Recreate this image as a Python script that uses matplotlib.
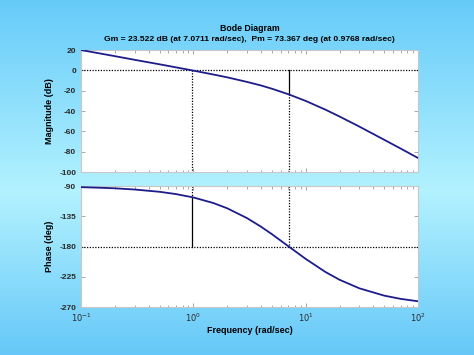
import numpy as np
import matplotlib
matplotlib.use("Agg")
import matplotlib.pyplot as plt
from matplotlib.colors import LinearSegmentedColormap

plt.rcParams['font.family'] = ['Liberation Sans', 'DejaVu Sans']

# values
freq = [0.1, 0.15, 0.2, 0.3, 0.5, 0.7, 1, 1.5, 2, 3, 4, 5, 7, 10, 15, 20, 30, 50, 70, 100]
mag_db = [20.0, 16.5, 14.0, 10.4, 6.0, 3.0, -0.2, -4.0, -6.8, -11.3, -14.8, -18.0, -23.4,
          -30.0, -38.6, -45.3, -55.2, -68.2, -76.8, -86.1]
phase_deg = [-91.7, -92.6, -93.4, -95.2, -98.6, -102.0, -107.0, -115.2, -123.1, -137.7,
             -150.5, -161.6, -179.5, -198.4, -217.9, -229.4, -242.1, -253.0, -257.8, -261.4]
gm_db, gm_freq = 23.522, 7.0711
pm_deg, pm_freq = 73.367, 0.9768
mag_ticks = [20, 0, -20, -40, -60, -80, -100]
phase_ticks = [-90, -135, -180, -225, -270]

fig = plt.figure(figsize=(4.74, 3.55), dpi=100)

# blue gradient background
bg = fig.add_axes([0, 0, 1, 1], zorder=-10)
cmap = LinearSegmentedColormap.from_list("bg", [(0, "#66c8f8"), (0.46, "#b3f2ff"), (1, "#66cbf9")])
bg.imshow(np.linspace(0, 1, 256).reshape(-1, 1), aspect='auto', cmap=cmap,
          extent=[0, 1, 0, 1], origin='lower')
bg.axis('off')

line_col = '#1c1c8a'
tick_col = '#2a2a2a'
dots = (0, (1, 1.2))

ax1 = fig.add_axes([0.171, 0.515, 0.711, 0.344])
ax2 = fig.add_axes([0.171, 0.135, 0.711, 0.341])

for ax in (ax1, ax2):
    ax.set_facecolor('white')
    ax.set_xscale('log')
    ax.set_xlim(0.1, 100)
    for s in ax.spines.values():
        s.set_color('#c8c8c8')
        s.set_linewidth(0.8)
    ax.tick_params(which='both', direction='in', top=True, right=True,
                   color='#999999', labelsize=6, labelcolor=tick_col, length=3, width=0.6)
    ax.tick_params(which='minor', length=1.8)

# magnitude
ax1.plot(freq, mag_db, color=line_col, lw=1.3, zorder=3)
ax1.axhline(0, color='black', ls=dots, lw=0.9)
ax1.plot([pm_freq, pm_freq], [0, -100], color='black', ls=dots, lw=0.9)
ax1.plot([gm_freq, gm_freq], [0, -gm_db], color='black', lw=0.9)
ax1.plot([gm_freq, gm_freq], [-gm_db, -100], color='black', ls=dots, lw=0.9)
ax1.set_ylim(-100, 20)
ax1.set_yticks(mag_ticks)
ax1.set_yticklabels([str(t) for t in mag_ticks], fontweight='bold')
ax1.tick_params(which='both', labelbottom=False)
ax1.set_ylabel('Magnitude (dB)', fontsize=6.5, fontweight='bold', color='black', labelpad=4)

# phase
ax2.plot(freq, phase_deg, color=line_col, lw=1.3, zorder=3)
ax2.axhline(-180, color='black', ls=dots, lw=0.9)
ax2.plot([pm_freq, pm_freq], [-90, -180 + pm_deg], color='black', ls=dots, lw=0.9)
ax2.plot([pm_freq, pm_freq], [-180 + pm_deg, -180], color='black', lw=0.9)
ax2.plot([gm_freq, gm_freq], [-90, -180], color='black', ls=dots, lw=0.9)
ax2.set_ylim(-270, -90)
ax2.set_yticks(phase_ticks)
ax2.set_yticklabels([str(t) for t in phase_ticks], fontweight='bold')
ax2.set_xticks([0.1, 1, 10, 100])
ax2.set_xticklabels([r'$10^{-1}$', r'$10^{0}$', r'$10^{1}$', r'$10^{2}$'])
ax2.tick_params(axis='x', pad=3)
ax2.set_ylabel('Phase (deg)', fontsize=6.5, fontweight='bold', color='black', labelpad=4)
ax2.set_xlabel('Frequency (rad/sec)', fontsize=6.5, fontweight='bold', color='black', labelpad=2)

fig.text(0.527, 0.92, 'Bode Diagram', ha='center', va='center', fontsize=6.3, fontweight='bold')
fig.text(0.527, 0.888, 'Gm = 23.522 dB (at 7.0711 rad/sec),  Pm = 73.367 deg (at 0.9768 rad/sec)',
         ha='center', va='center', fontsize=6.1, fontweight='bold')

fig.savefig('out.png', dpi=100)
